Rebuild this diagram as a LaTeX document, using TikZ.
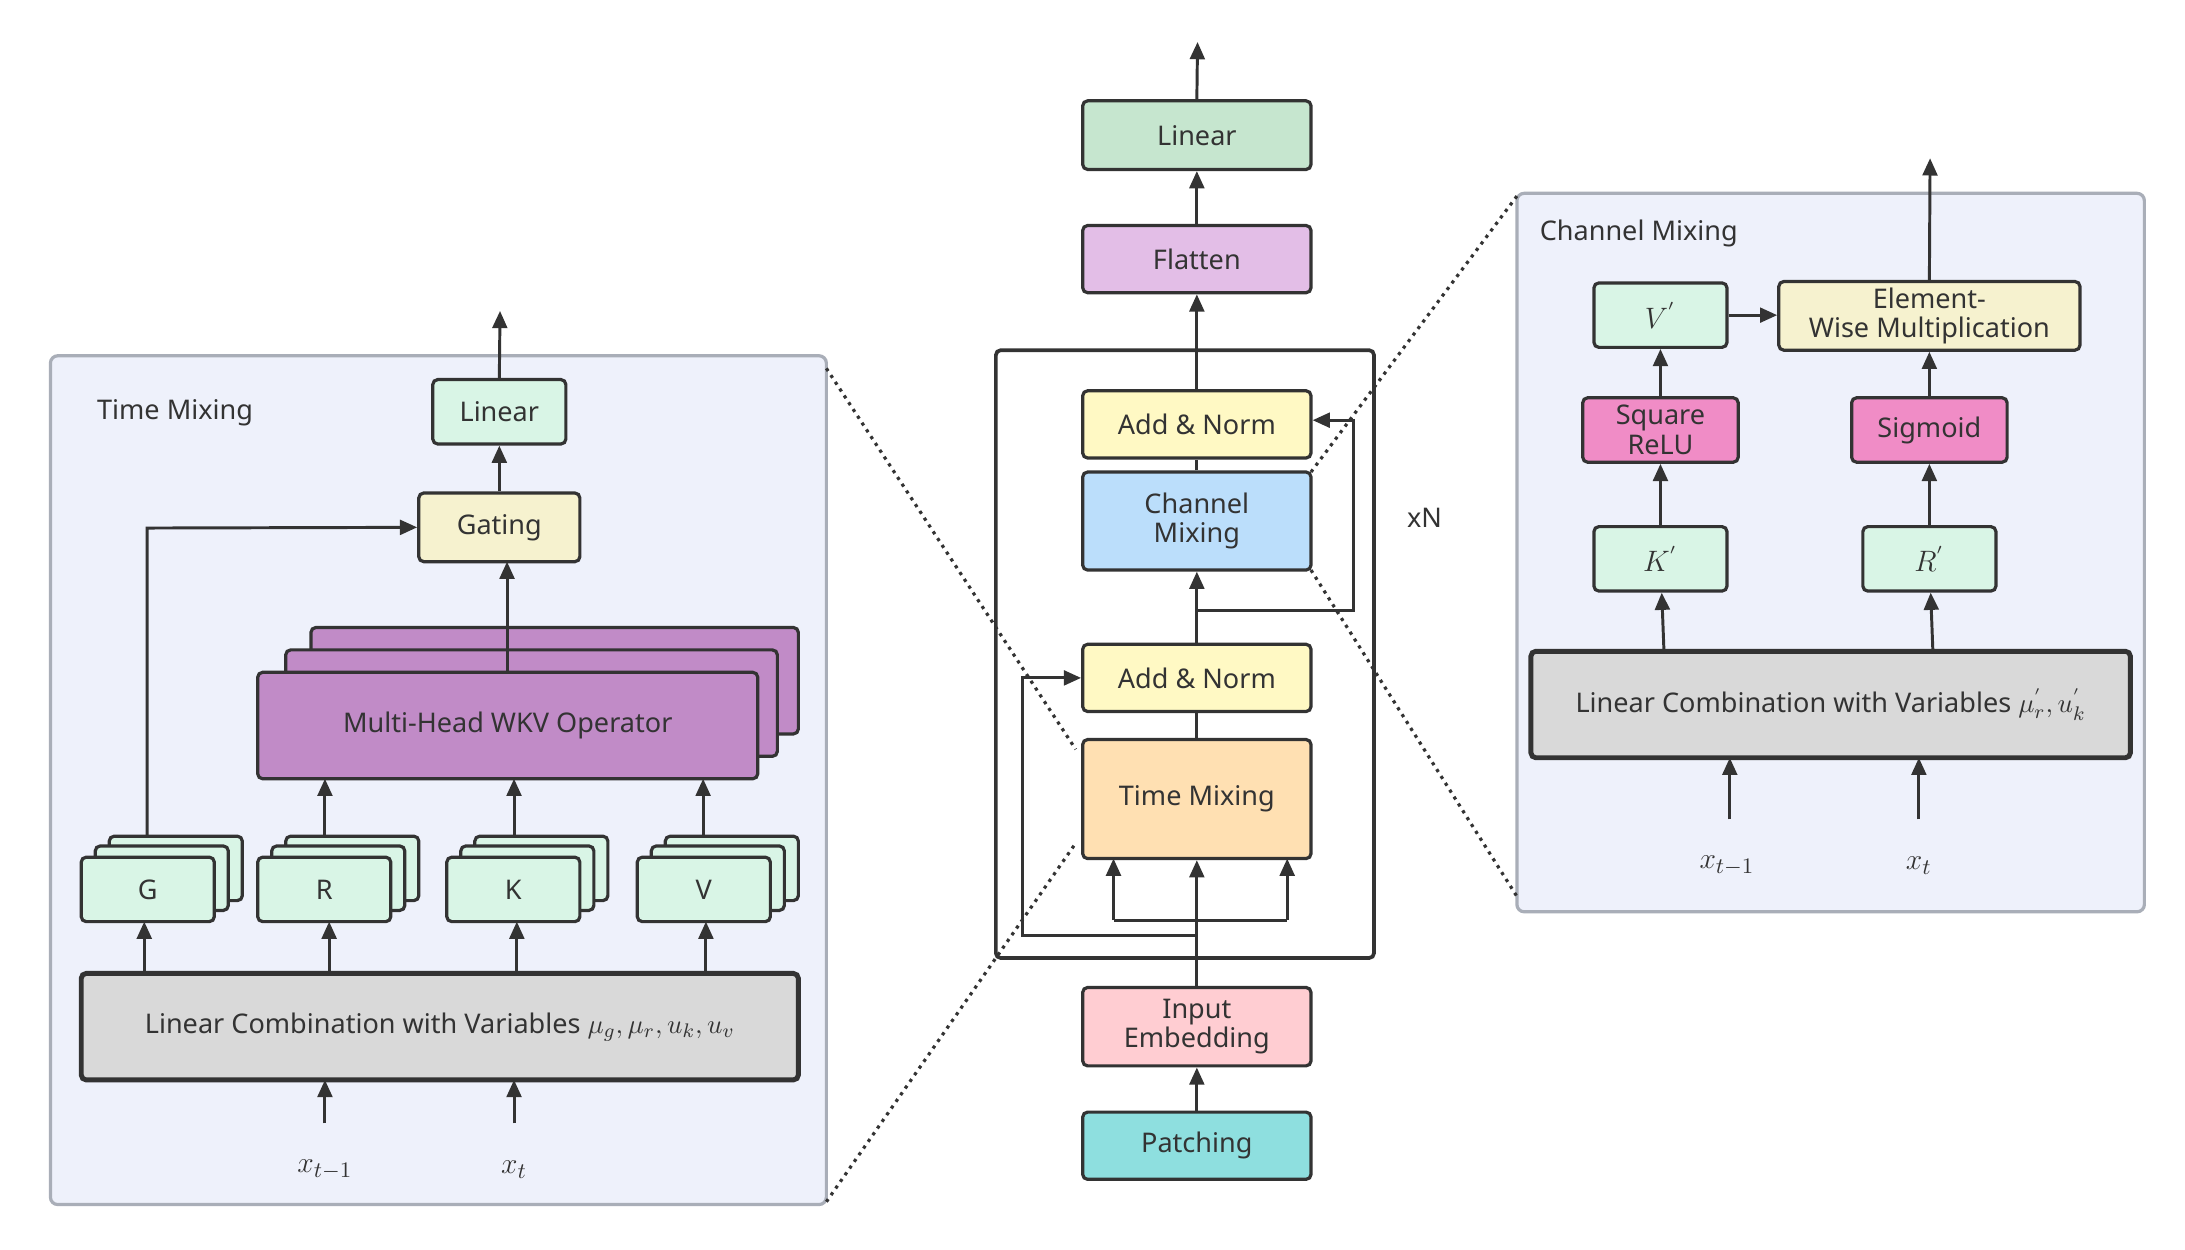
\documentclass[tikz,border=0pt]{standalone}
\usepackage{fontspec}
\setmainfont{Noto Sans}
\usepackage{amsmath}
\usetikzlibrary{arrows.meta}
\definecolor{ink}{HTML}{333333}
\definecolor{cGreen}{HTML}{C6E6CF}
\definecolor{cMint}{HTML}{D9F5E6}
\definecolor{cPurpleL}{HTML}{E3BEE7}
\definecolor{cYellow}{HTML}{FFF9C4}
\definecolor{cCream}{HTML}{F6F2CF}
\definecolor{cBlue}{HTML}{BBDEFB}
\definecolor{cOrange}{HTML}{FFE0B2}
\definecolor{cPink}{HTML}{FFCDD2}
\definecolor{cCyan}{HTML}{8EDFDF}
\definecolor{cPurple}{HTML}{C18BC7}
\definecolor{cMag}{HTML}{F08CC6}
\definecolor{cGray}{HTML}{D9D9D9}
\definecolor{cPanel}{HTML}{EEF1FB}
\definecolor{cPanelB}{HTML}{A9AEB8}
\tikzset{
 box/.style={draw=ink, line width=1.3pt, rounded corners=2pt, inner sep=1pt, align=center, font=\fontsize{11}{12}\selectfont, text=ink},
 arr/.style={-{Triangle[length=7pt,width=6pt]}, line width=1.2pt, draw=ink},
 ln/.style={line width=1.2pt, draw=ink},
 dots/.style={dotted, line width=1.3pt, draw=ink},
 panel/.style={draw=cPanelB, line width=1.3pt, fill=cPanel, rounded corners=3pt},
 lbl/.style={font=\fontsize{11}{12}\selectfont, text=ink},
 mlbl/.style={font=\fontsize{13}{14}\selectfont, text=ink}
}
\newcommand{\bx}[7][]{\node[box,#1, fill=#7, minimum width={((#5)-(#3))*0.02cm}, minimum height={((#6)-(#4))*0.02cm}] (#2) at ({((#3)+(#5))/2},{((#4)+(#6))/2})}
\begin{document}
\begin{tikzpicture}[x=0.02cm,y=-0.02cm]
\fill[white] (0,0) rectangle (1560,892);
\useasboundingbox (0,0) rectangle (1560,892);
% panels
\draw[panel] (36,254) rectangle (590,860);
\draw[panel] (1083,138) rectangle (1531,651);
\node[lbl] (tmt) at (125,295) {Time Mixing};
\node[lbl] (cmt) at (1170,167) {Channel Mixing};
% center
\draw[line width=1.5pt, draw=ink, rounded corners=2pt] (711,250) rectangle (981,684);
\node[lbl] (xn) at (1017,370) {xN};
\bx{lin}{773}{72}{936}{121}{cGreen} {Linear};
\bx{fl}{773}{161}{936}{209}{cPurpleL} {Flatten};
\bx{an2}{773}{279}{936}{327}{cYellow} {Add \& Norm};
\bx{cm}{773}{337}{936}{407}{cBlue} {Channel\\Mixing};
\bx{an1}{773}{460}{936}{508}{cYellow} {Add \& Norm};
\bx{tm}{773}{528}{936}{613}{cOrange} {Time Mixing};
\bx{ie}{773}{705}{936}{761}{cPink} {Input\\Embedding};
\bx{pa}{773}{794}{936}{842}{cCyan} {Patching};
\coordinate (top) at (855,30);
\draw[arr] (lin.north) -- (top);
\draw[arr] (fl) -- (lin);
\draw[arr] (an2) -- (fl);
\draw[ln] (cm) -- (an2);
\draw[arr] (an1) -- (cm);
\draw[ln] (tm) -- (an1);
\draw[arr] (pa) -- (ie);
\draw[arr] (ie) -- (tm);
\coordinate (b1) at (795,657); \coordinate (b2) at (919,657);
\draw[ln] (b1) -- (b2);
\draw[arr] (b1) -- (795,613);
\draw[arr] (b2) -- (919,613);
\draw[arr] (855,668) -- (730,668) -- (730,484) -- (an1.west);
\draw[arr] (855,436) -- (966,436) -- (966,300) -- (an2.east |- 0,300);
% left panel
\bx{llin}{309}{271}{404}{317}{cMint} {Linear};
\bx{gat}{299}{352}{414}{401}{cCream} {Gating};
\bx{w3}{222}{448}{570}{524}{cPurple} {};
\bx{w2}{204}{464}{555}{540}{cPurple} {};
\bx{wkv}{184}{480}{541}{556}{cPurple} {Multi-Head WKV Operator};
\foreach \n/\a in {g/58,r/184,k/319,v/455}{
 \bx{\n3}{\a+20}{597}{\a+115}{643}{cMint} {};
 \bx{\n2}{\a+10}{604}{\a+105}{650}{cMint} {};
}
\bx{g}{58}{612}{153}{658}{cMint} {G};
\bx{r}{184}{612}{279}{658}{cMint} {R};
\bx{k}{319}{612}{414}{658}{cMint} {K};
\bx{v}{455}{612}{550}{658}{cMint} {V};
\bx[line width=2pt]{lc}{58}{695}{570}{771}{cGray} {Linear Combination with Variables $\mu_g,\mu_r,u_k,u_v$};
\node[mlbl] (x1) at (232,835) {$x_{t-1}$};
\node[mlbl] (x2) at (367,835) {$x_t$};
\draw[arr] (232,802) -- (232,771);
\draw[arr] (367,802) -- (367,771);
\draw[arr] (103,695) -- (103,658);
\draw[arr] (235,695) -- (235,658);
\draw[arr] (369,695) -- (369,658);
\draw[arr] (504,695) -- (504,658);
\draw[arr] (105,597) -- (105,377) -- (gat.west);
\draw[arr] (232,597) -- (232,556);
\draw[arr] (367,597) -- (367,556);
\draw[arr] (502,597) -- (502,556);
\draw[arr] (362,480) -- (362,401);
\draw[arr] (gat) -- (llin);
\coordinate (ltop) at (357,222);
\draw[arr] (llin.north) -- (ltop);
% right panel
\bx{vp}{1138}{202}{1233}{248}{cMint} {\large $V^{'}$};
\bx{ew}{1270}{201}{1485}{250}{cCream} {Element-\\Wise Multiplication};
\bx{sr}{1130}{284}{1241}{330}{cMag} {Square\\ReLU};
\bx{sg}{1322}{284}{1433}{330}{cMag} {Sigmoid};
\bx{kp}{1138}{376}{1233}{422}{cMint} {\large $K^{'}$};
\bx{rp}{1330}{376}{1425}{422}{cMint} {\large $R^{'}$};
\bx[line width=2pt]{rlc}{1093}{465}{1521}{541}{cGray} {Linear Combination with Variables $\mu_r^{'},u_k^{'}$};
\node[mlbl] (y1) at (1233,618) {$x_{t-1}$};
\node[mlbl] (y2) at (1370,618) {$x_t$};
\draw[arr] (1235,585) -- (1235,541);
\draw[arr] (1370,585) -- (1370,541);
\draw[arr] (1188,465) -- (kp);
\draw[arr] (1380,465) -- (rp);
\draw[arr] (kp) -- (sr);
\draw[arr] (rp) -- (sg);
\draw[arr] (sr) -- (vp);
\draw[arr] (sg.north) -- (sg.north |- ew.south);
\draw[arr] (vp.east) -- (ew.west |- vp.east);
\coordinate (rtop) at (1378,113);
\draw[arr] (ew.north) -- (rtop);
% dotted
\draw[dots] (590,263) -- (768,535);
\draw[dots] (590,858) -- (768,602);
\draw[dots] (936,337) -- (1083,140);
\draw[dots] (936,407) -- (1083,640);
\end{tikzpicture}
\end{document}
